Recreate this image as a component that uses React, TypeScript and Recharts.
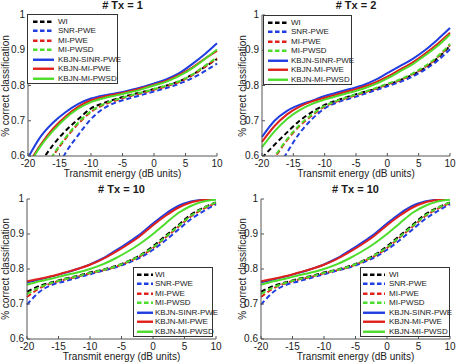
import React from 'react';
import { LineChart, Line, XAxis, YAxis, Legend } from 'recharts';

const energy = [-20, -18, -16, -14, -12, -10, -8, -6, -4, -2, 0, 2, 4, 6, 8, 10];
const xTicks = [-20, -15, -10, -5, 0, 5, 10];
const yTicks = [0.6, 0.7, 0.8, 0.9, 1];
const seriesNames = ['WI', 'SNR-PWE', 'MI-PWE', 'MI-PWSD', 'KBJN-SINR-PWE', 'KBJN-MI-PWE', 'KBJN-MI-PWSD'];
const seriesColors = ['#000000', '#1f3de0', '#e0201a', '#4ddc2a', '#1f3de0', '#e0201a', '#4ddc2a'];
const seriesDashed = [true, true, true, true, false, false, false];

// # Tx = 1
const tx1WI = [0.50, 0.578, 0.632, 0.672, 0.705, 0.735, 0.75, 0.762, 0.772, 0.781, 0.79, 0.8, 0.812, 0.83, 0.852, 0.875];
const tx1SNR = [0.42, 0.48, 0.54, 0.61, 0.66, 0.705, 0.735, 0.752, 0.763, 0.773, 0.783, 0.793, 0.805, 0.82, 0.84, 0.862];
const tx1MIPWE = [0.47, 0.53, 0.6, 0.65, 0.692, 0.725, 0.745, 0.758, 0.769, 0.778, 0.788, 0.798, 0.81, 0.828, 0.852, 0.877];
const tx1MIPWSD = [0.475, 0.535, 0.603, 0.653, 0.695, 0.727, 0.747, 0.76, 0.771, 0.78, 0.79, 0.8, 0.812, 0.83, 0.855, 0.88];
const tx1KSINR = [0.595, 0.655, 0.695, 0.725, 0.748, 0.763, 0.772, 0.778, 0.786, 0.795, 0.806, 0.818, 0.835, 0.86, 0.888, 0.92];
const tx1KMIPWE = [0.575, 0.632, 0.678, 0.713, 0.74, 0.758, 0.768, 0.775, 0.783, 0.792, 0.802, 0.814, 0.83, 0.85, 0.875, 0.898];
const tx1KMIPWSD = [0.57, 0.628, 0.672, 0.708, 0.735, 0.753, 0.764, 0.772, 0.78, 0.789, 0.8, 0.811, 0.827, 0.848, 0.874, 0.902];

// # Tx = 2
const tx2WI = [0.595, 0.632, 0.667, 0.7, 0.725, 0.745, 0.758, 0.77, 0.78, 0.79, 0.802, 0.815, 0.83, 0.85, 0.877, 0.913];
const tx2SNR = [0.5, 0.55, 0.61, 0.665, 0.705, 0.735, 0.752, 0.763, 0.774, 0.786, 0.798, 0.81, 0.825, 0.845, 0.87, 0.903];
const tx2MIPWE = [0.55, 0.595, 0.645, 0.685, 0.715, 0.74, 0.755, 0.767, 0.778, 0.79, 0.803, 0.815, 0.832, 0.852, 0.88, 0.915];
const tx2MIPWSD = [0.552, 0.598, 0.648, 0.688, 0.718, 0.742, 0.757, 0.769, 0.78, 0.792, 0.805, 0.817, 0.834, 0.855, 0.882, 0.918];
const tx2KSINR = [0.654, 0.7, 0.728, 0.745, 0.757, 0.77, 0.78, 0.79, 0.8, 0.815, 0.835, 0.855, 0.875, 0.9, 0.93, 0.963];
const tx2KMIPWE = [0.64, 0.685, 0.718, 0.74, 0.755, 0.765, 0.775, 0.785, 0.795, 0.808, 0.825, 0.845, 0.865, 0.89, 0.918, 0.95];
const tx2KMIPWSD = [0.625, 0.67, 0.705, 0.73, 0.748, 0.76, 0.77, 0.78, 0.79, 0.803, 0.82, 0.84, 0.86, 0.885, 0.912, 0.945];

// # Tx = 10
const tx10WI = [0.735, 0.752, 0.762, 0.772, 0.78, 0.79, 0.798, 0.808, 0.822, 0.84, 0.865, 0.895, 0.925, 0.955, 0.975, 0.99];
const tx10SNR = [0.698, 0.735, 0.755, 0.765, 0.775, 0.785, 0.795, 0.804, 0.817, 0.833, 0.855, 0.882, 0.912, 0.942, 0.965, 0.985];
const tx10MIPWE = [0.72, 0.745, 0.76, 0.77, 0.778, 0.788, 0.796, 0.806, 0.82, 0.837, 0.86, 0.89, 0.92, 0.95, 0.972, 0.988];
const tx10MIPWSD = [0.728, 0.748, 0.761, 0.771, 0.779, 0.789, 0.797, 0.807, 0.821, 0.839, 0.862, 0.892, 0.922, 0.952, 0.974, 0.99];
const tx10KSINR = [0.762, 0.77, 0.779, 0.789, 0.8, 0.813, 0.83, 0.852, 0.875, 0.9, 0.93, 0.958, 0.98, 0.993, 0.998, 1.0];
const tx10KMIPWE = [0.765, 0.772, 0.78, 0.79, 0.8, 0.812, 0.828, 0.848, 0.87, 0.895, 0.925, 0.952, 0.975, 0.99, 0.997, 1.0];
const tx10KMIPWSD = [0.755, 0.765, 0.773, 0.782, 0.79, 0.8, 0.813, 0.83, 0.85, 0.873, 0.9, 0.93, 0.96, 0.98, 0.993, 0.998];

const buildRows = (series: number[][]) =>
  energy.map((x, i) => {
    const row: Record<string, number> = { x };
    seriesNames.forEach((n, k) => {
      row[n] = series[k][i];
    });
    return row;
  });

const rowsTx1 = buildRows([tx1WI, tx1SNR, tx1MIPWE, tx1MIPWSD, tx1KSINR, tx1KMIPWE, tx1KMIPWSD]);
const rowsTx2 = buildRows([tx2WI, tx2SNR, tx2MIPWE, tx2MIPWSD, tx2KSINR, tx2KMIPWE, tx2KMIPWSD]);
const rowsTx10 = buildRows([tx10WI, tx10SNR, tx10MIPWE, tx10MIPWSD, tx10KSINR, tx10KMIPWE, tx10KMIPWSD]);

const FONT = "'Liberation Sans Narrow', 'Liberation Sans', Arial, sans-serif";
const AXIS = '#555';
const TEXT = '#1a1a1a';
const DASH = '5 3';

const YTick = (props: any) => {
  const { x, y, payload } = props;
  const v = payload.value;
  return (
    <g>
      <line x1={x + 3} x2={x + 6} y1={y} y2={y} stroke={AXIS} strokeWidth={1} />
      <text x={x} y={y} dy={3.2} textAnchor="end" fontSize={10} fontFamily={FONT} fill={TEXT}>
        {v === 1 ? '1' : Number(v).toFixed(1)}
      </text>
    </g>
  );
};

const XTick = (props: any) => {
  const { x, y, payload } = props;
  return (
    <g>
      <line x1={x} x2={x} y1={y - 3} y2={y - 6} stroke={AXIS} strokeWidth={1} />
      <text x={x} y={y} dy={7.6} textAnchor="middle" fontSize={10} fontFamily={FONT} fill={TEXT}>
        {payload.value}
      </text>
    </g>
  );
};

type LegendCfg = { left: number; top: number; w: number; sx0: number; sx1: number; textX: number };

const makeLegend = (cfg: LegendCfg) => () => (
  <div
    style={{
      width: cfg.w,
      border: '1px solid #333',
      background: '#fff',
      padding: '1.5px 0 0 0',
      boxSizing: 'border-box',
      fontFamily: FONT,
    }}
  >
    {seriesNames.map((n, i) => (
      <div key={n} style={{ display: 'flex', alignItems: 'center', height: 9.5 }}>
        <svg width={cfg.textX} height={9.5} style={{ flex: 'none' }}>
          <line
            x1={cfg.sx0}
            x2={cfg.sx1}
            y1={4.75}
            y2={4.75}
            stroke={seriesColors[i]}
            strokeWidth={2.4}
            strokeDasharray={seriesDashed[i] ? '4.5 2.5' : undefined}
          />
        </svg>
        <span style={{ fontSize: 8, lineHeight: '9.5px', whiteSpace: 'nowrap', color: TEXT }}>{n}</span>
      </div>
    ))}
  </div>
);

type PanelProps = {
  left: number;
  top: number;
  width: number;
  height: number;
  plot: { x0: number; x1: number; y0: number; y1: number };
  rows: Record<string, number>[];
  legend: LegendCfg;
  title: string;
};

const Panel = ({ left, top, width, height, plot, rows, legend, title }: PanelProps) => {
  const yAxisW = plot.x0 - left;
  const xAxisH = 20;
  const margin = {
    top: plot.y0 - top,
    right: left + width - plot.x1,
    left: 0,
    bottom: top + height - plot.y1 - xAxisH,
  };
  const cx = (plot.x0 + plot.x1) / 2;
  const cy = (plot.y0 + plot.y1) / 2;
  return (
    <>
      <div style={{ position: 'absolute', left, top, width, height }}>
        <LineChart width={width} height={height} data={rows} margin={margin}>
          <XAxis
            dataKey="x"
            type="number"
            domain={[-20, 10]}
            ticks={xTicks}
            height={xAxisH}
            tickSize={0}
            tickMargin={3}
            tick={<XTick />}
            axisLine={{ stroke: AXIS }}
            tickLine={false}
            interval={0}
          />
          <YAxis
            type="number"
            domain={[0.6, 1]}
            allowDataOverflow
            ticks={yTicks}
            width={yAxisW}
            tickSize={0}
            tickMargin={3}
            tick={<YTick />}
            axisLine={{ stroke: AXIS }}
            tickLine={false}
            interval={0}
          />
          {seriesNames.map((n, i) => (
            <Line
              key={n}
              dataKey={n}
              type="monotone"
              stroke={seriesColors[i]}
              strokeWidth={2}
              strokeDasharray={seriesDashed[i] ? DASH : undefined}
              dot={false}
              isAnimationActive={false}
            />
          ))}
          <Legend
            layout="vertical"
            align="center"
            verticalAlign="middle"
            content={makeLegend(legend)}
            wrapperStyle={{ left: legend.left - left, top: legend.top - top, width: legend.w, height: 'auto' }}
          />
        </LineChart>
      </div>
      <div
        style={{
          position: 'absolute',
          left: cx - 60,
          top: plot.y0 - 16,
          width: 120,
          textAlign: 'center',
          fontFamily: FONT,
          fontWeight: 'bold',
          fontSize: 11,
          lineHeight: '13px',
          color: TEXT,
        }}
      >
        {title}
      </div>
      <div
        style={{
          position: 'absolute',
          left: cx - 80,
          top: plot.y1 + 12,
          width: 160,
          textAlign: 'center',
          fontFamily: FONT,
          fontSize: 10,
          lineHeight: '12px',
          color: TEXT,
        }}
      >
        Transmit energy (dB units)
      </div>
      <div
        style={{
          position: 'absolute',
          left: left + 6 - 60,
          top: cy - 6,
          width: 120,
          height: 12,
          textAlign: 'center',
          fontFamily: FONT,
          fontSize: 10,
          lineHeight: '12px',
          color: TEXT,
          transform: 'rotate(-90deg)',
          whiteSpace: 'nowrap',
        }}
      >
        % correct classification
      </div>
    </>
  );
};

export default function App() {
  return (
    <div style={{ position: 'absolute', left: 0, top: 0, width: 474, height: 364, background: '#fff', overflow: 'hidden' }}>
      <Panel
        left={0}
        top={0}
        width={237}
        height={182}
        plot={{ x0: 28, x1: 217, y0: 15, y1: 156 }}
        rows={rowsTx1}
        title="# Tx = 1"
        legend={{ left: 27, top: 14, w: 91, sx0: 5, sx1: 26, textX: 30 }}
      />
      <Panel
        left={237}
        top={0}
        width={237}
        height={182}
        plot={{ x0: 262, x1: 450, y0: 15, y1: 156 }}
        rows={rowsTx2}
        title="# Tx = 2"
        legend={{ left: 263, top: 15, w: 89, sx0: 4, sx1: 24, textX: 27 }}
      />
      <Panel
        left={0}
        top={182}
        width={237}
        height={182}
        plot={{ x0: 27, x1: 216, y0: 199, y1: 339 }}
        rows={rowsTx10}
        title="# Tx = 10"
        legend={{ left: 133, top: 267, w: 80, sx0: 3, sx1: 19, textX: 21 }}
      />
      <Panel
        left={237}
        top={182}
        width={237}
        height={182}
        plot={{ x0: 261, x1: 450, y0: 199, y1: 339 }}
        rows={rowsTx10}
        title="# Tx = 10"
        legend={{ left: 360, top: 267, w: 90, sx0: 2, sx1: 24, textX: 28 }}
      />
    </div>
  );
}
